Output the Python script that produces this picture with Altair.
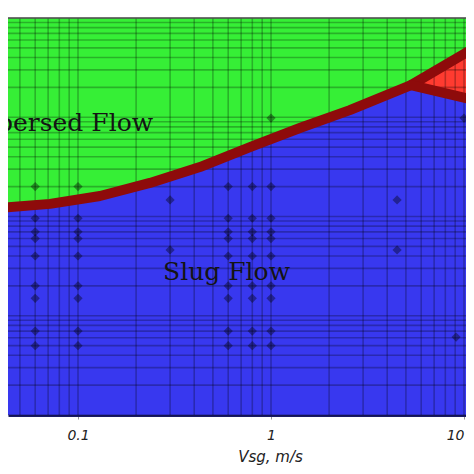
import altair as alt
import pandas as pd

# ---- data (Vsg, Vsl in m/s, log-log map) ----
# transition boundary (dispersed / slug), left to the junction
curve_vsg = [0.0394, 0.0716, 0.130, 0.236, 0.428, 0.778, 1.41, 2.56, 5.31]
curve_vsl = [1.22, 1.34, 1.61, 2.18, 3.15, 5.01, 7.79, 11.8, 21.1]
# upper and lower boundaries of the red region
upper_vsg = [5.31, 11.3]
upper_vsl = [21.1, 50.0]
lower_vsg = [5.31, 11.3]
lower_vsl = [21.1, 14.9]

# measured points
col_vsg = [0.06, 0.1, 0.6, 0.8, 1.0]
col_vsl = [2.0, 0.96, 0.70, 0.60, 0.40, 0.20, 0.15, 0.07, 0.05]
extra_vsg = [0.3, 0.3, 4.5, 4.5, 9.1, 1.0, 10.0]
extra_vsl = [1.47, 0.46, 1.47, 0.46, 0.061, 9.8, 9.8]

# log grid multipliers / decades
grid_mult = [1, 2, 3, 4, 5, 6, 7, 8, 9]
grid_dec = [0.01, 0.1, 1, 10]

# labels
lab_text = ["Dispersed Flow", "Slug Flow"]
lab_vsg = [0.245, 0.276]
lab_vsl = [7.27, 0.229]
lab_align = ["right", "left"]

XMIN, XMAX = 0.04338, 10.24
YMIN, YMAX = 0.01, 100

x_scale = alt.Scale(type="log", domain=[XMIN, XMAX], nice=False)
y_scale = alt.Scale(type="log", domain=[YMIN, YMAX], nice=False)
x_axis = alt.Axis(values=[0.1, 1, 10], format="~g", grid=False, title="Vsg, m/s",
                  domainColor="#1b1b66", domainWidth=3, tickColor="#999999",
                  tickSize=4, tickWidth=1, labelPadding=9,
                  labelAlign={"condition": {"test": "datum.value >= 10", "value": "right"},
                              "value": "center"},
                  labelFont="DejaVu Sans", labelFontStyle="italic", labelFontSize=14,
                  labelColor="#222222",
                  titleFont="DejaVu Sans", titleFontStyle="italic", titleFontSize=15,
                  titleFontWeight="normal", titleColor="#222222",
                  titleX=262, titleY=41, titleBaseline="middle", titleAlign="center")


def X(field="vsg"):
    return alt.X(f"{field}:Q", scale=x_scale, axis=x_axis)


def Y(field="vsl"):
    return alt.Y(f"{field}:Q", scale=y_scale, axis=None)


# blue region: below curve then lower red boundary
blue_df = pd.DataFrame({
    "vsg": curve_vsg + [lower_vsg[1]],
    "vsl": curve_vsl + [lower_vsl[1]],
    "floor": [YMIN] * (len(curve_vsg) + 1),
})
blue = alt.Chart(blue_df).mark_area(color="#3838ef", opacity=1).encode(
    x=X(), y=Y(), y2=alt.Y2("floor:Q"))

red_df = pd.DataFrame({"vsg": lower_vsg, "vsl": lower_vsl, "top": upper_vsl})
red = alt.Chart(red_df).mark_area(color="#ff3b30", opacity=1).encode(
    x=X(), y=Y(), y2=alt.Y2("top:Q"))

vgrid = [m * d for d in grid_dec for m in grid_mult if XMIN <= m * d <= XMAX]
hgrid = [m * d for d in grid_dec for m in grid_mult if YMIN <= m * d <= YMAX] + [YMAX]
vg = alt.Chart(pd.DataFrame({"vsg": vgrid})).mark_rule(
    color="black", opacity=0.26, strokeWidth=1.6).encode(x=X())
hg = alt.Chart(pd.DataFrame({"vsl": hgrid})).mark_rule(
    color="black", opacity=0.26, strokeWidth=1.6).encode(y=Y())

pts_rows = [{"vsg": g, "vsl": l} for g in col_vsg for l in col_vsl]
pts_rows += [{"vsg": g, "vsl": l} for g, l in zip(extra_vsg, extra_vsl)]
pts = alt.Chart(pd.DataFrame(pts_rows)).mark_point(
    shape="diamond", filled=True, size=85, color="black", opacity=0.38).encode(
    x=X(), y=Y())

line_rows = []
for i, (g, l) in enumerate(zip(curve_vsg + upper_vsg[1:], curve_vsl + upper_vsl[1:])):
    line_rows.append({"seg": "upper", "i": i, "vsg": g, "vsl": l})
for i, (g, l) in enumerate(zip(lower_vsg, lower_vsl)):
    line_rows.append({"seg": "lower", "i": i, "vsg": g, "vsl": l})
lines = alt.Chart(pd.DataFrame(line_rows)).mark_line(
    color="#8e0b0b", strokeWidth=10, strokeCap="round", strokeJoin="round").encode(
    x=X(), y=Y(), detail="seg:N", order="i:Q")

top_rule = alt.Chart(pd.DataFrame({"vsl": [YMAX]})).mark_rule(
    color="#555555", strokeWidth=1.5).encode(y=Y())

lab_df = pd.DataFrame({"t": lab_text, "vsg": lab_vsg, "vsl": lab_vsl, "a": lab_align})
lab_r = alt.Chart(lab_df[lab_df.a == "right"]).mark_text(
    align="right", baseline="alphabetic", font="DejaVu Serif", fontSize=25,
    color="#141414").encode(x=X(), y=Y(), text="t:N")
lab_l = alt.Chart(lab_df[lab_df.a == "left"]).mark_text(
    align="left", baseline="alphabetic", font="DejaVu Serif", fontSize=25,
    color="#141414").encode(x=X(), y=Y(), text="t:N")

chart = alt.layer(blue, red, vg, hg, pts, lines, top_rule, lab_r, lab_l).properties(
    width=458, height=397,
    background="white",
    autosize=alt.AutoSizeParams(type="none"),
    padding={"top": 10, "left": 0, "right": 0, "bottom": 51},
).configure_view(fill="#36ef36", stroke=None)

chart.save("out.html", embed_options={"renderer": "svg", "actions": False})
